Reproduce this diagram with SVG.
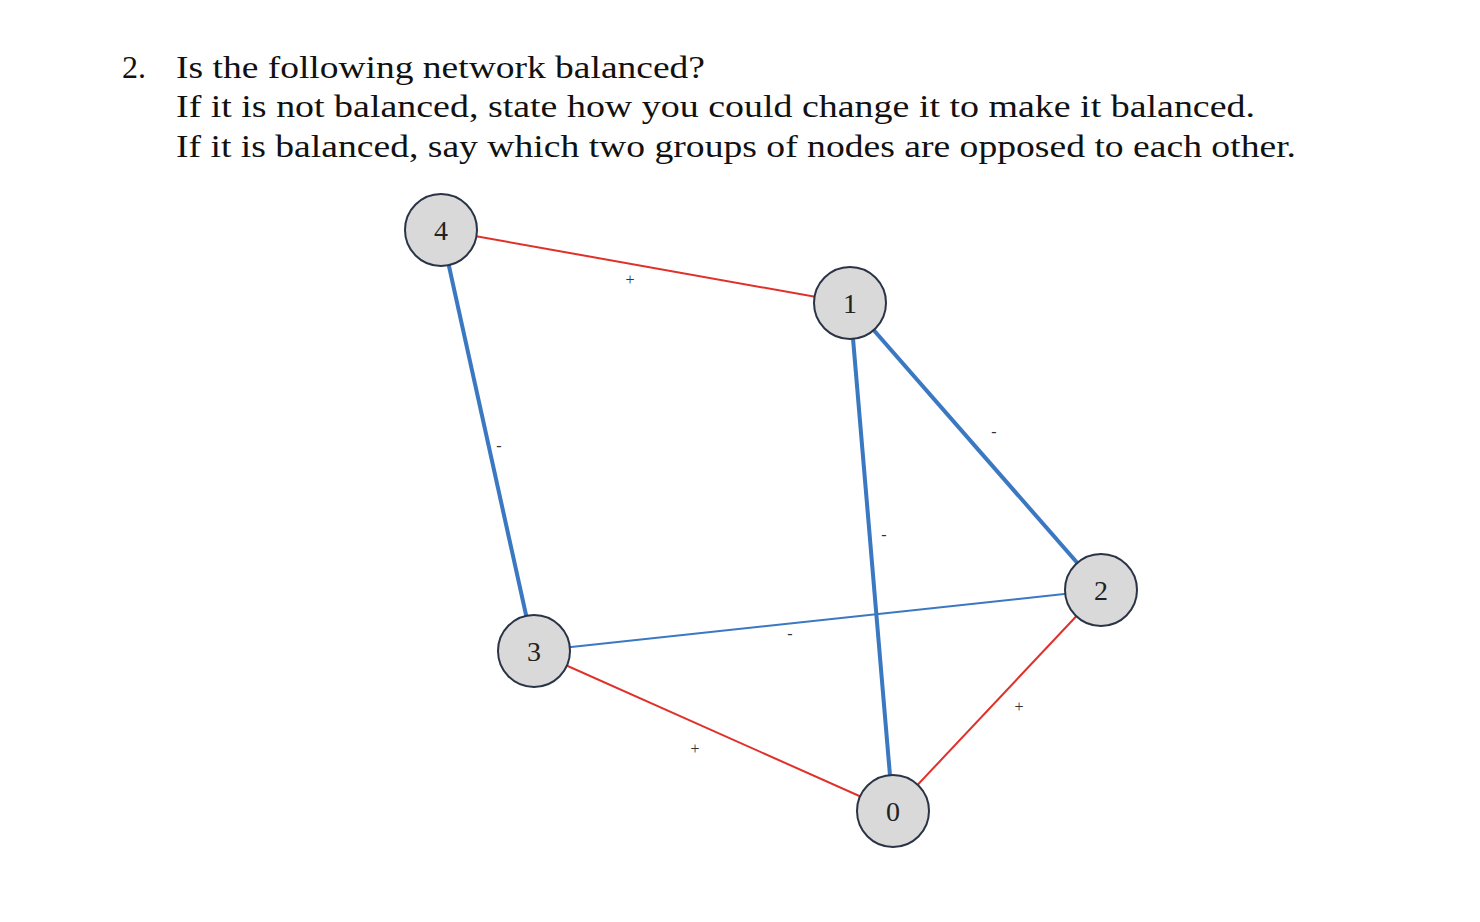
<svg xmlns="http://www.w3.org/2000/svg" width="1480" height="922" viewBox="0 0 1480 922">
<style>
.q{font-family:"Liberation Serif","DejaVu Serif",serif;font-size:32px;fill:#111}
.red{stroke:#e0302a;stroke-width:2}
.blue{stroke:#3a78c2;stroke-width:4}
.thin{stroke-width:2}
.lbl{font-family:"Liberation Serif",serif;font-size:16px;fill:#333;text-anchor:middle}
.n circle{fill:#d9d9d9;stroke:#2a3446;stroke-width:2}
.n text{font-family:"Liberation Serif",serif;font-size:28px;fill:#222;text-anchor:middle}
</style>
<rect width="1480" height="922" fill="#fff"/>
<text class="q" x="122" y="78">2.</text>
<text class="q" x="176" y="78" textLength="529" lengthAdjust="spacingAndGlyphs">Is the following network balanced?</text>
<text class="q" x="176" y="117" textLength="1079" lengthAdjust="spacingAndGlyphs">If it is not balanced, state how you could change it to make it balanced.</text>
<text class="q" x="176" y="157" textLength="1120" lengthAdjust="spacingAndGlyphs">If it is balanced, say which two groups of nodes are opposed to each other.</text>
<g id="edges">
<line class="red" x1="441" y1="230" x2="850" y2="303"/>
<line class="blue" x1="441" y1="230" x2="534" y2="651"/>
<line class="blue" x1="850" y1="303" x2="893" y2="811"/>
<line class="blue" x1="850" y1="303" x2="1101" y2="590"/>
<line class="blue thin" x1="534" y1="651" x2="1101" y2="590"/>
<line class="red" x1="534" y1="651" x2="893" y2="811"/>
<line class="red" x1="1101" y1="590" x2="893" y2="811"/>
<text class="lbl" x="630" y="285">+</text>
<text class="lbl" x="499" y="451">-</text>
<text class="lbl" x="994" y="437">-</text>
<text class="lbl" x="884" y="540">-</text>
<text class="lbl" x="790" y="639">-</text>
<text class="lbl" x="695" y="754">+</text>
<text class="lbl" x="1019" y="712">+</text>
</g>
<g id="node4" class="n"><circle cx="441" cy="230" r="36"/><text x="441" y="240">4</text></g>
<g id="node1" class="n"><circle cx="850" cy="303" r="36"/><text x="850" y="313">1</text></g>
<g id="node2" class="n"><circle cx="1101" cy="590" r="36"/><text x="1101" y="600">2</text></g>
<g id="node3" class="n"><circle cx="534" cy="651" r="36"/><text x="534" y="661">3</text></g>
<g id="node0" class="n"><circle cx="893" cy="811" r="36"/><text x="893" y="821">0</text></g>
</svg>
